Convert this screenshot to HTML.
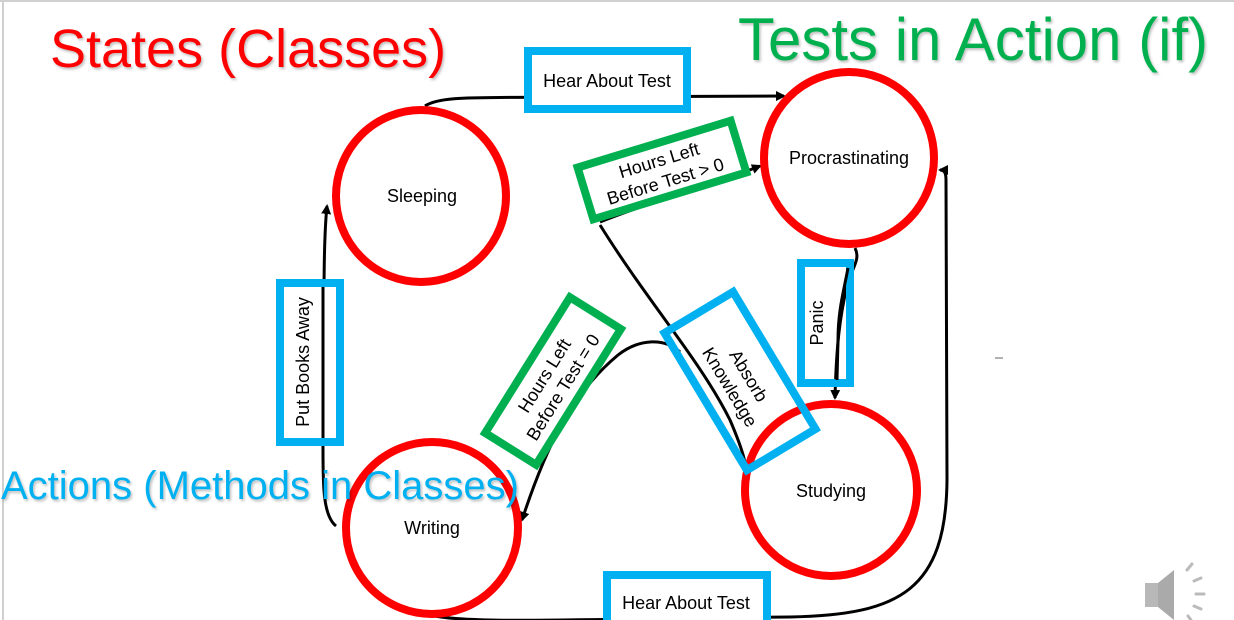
<!DOCTYPE html>
<html><head><meta charset="utf-8"><style>
html,body{margin:0;padding:0;background:#fff;}
body{width:1234px;height:620px;overflow:hidden;}
svg{display:block;}
.t{font-family:"Liberation Sans",sans-serif;}
.l{font-family:"Liberation Sans",sans-serif;font-size:17px;fill:#000;}
.n{font-family:"Liberation Sans",sans-serif;font-size:18px;fill:#000;}
</style></head><body>
<svg width="1234" height="620" viewBox="0 0 1234 620" xmlns="http://www.w3.org/2000/svg">
<defs>
<marker id="a" markerWidth="10" markerHeight="10" refX="8" refY="5" orient="auto" markerUnits="userSpaceOnUse"><path d="M0,0 L10,5 L0,10 z" fill="#000"/></marker>
<filter id="sh" x="-5%" y="-5%" width="110%" height="120%"><feDropShadow dx="1.5" dy="2" stdDeviation="1.2" flood-color="#000" flood-opacity="0.25"/></filter>
</defs>
<rect x="0" y="0" width="1234" height="620" fill="#fff"/>
<line x1="3" y1="0" x2="3" y2="620" stroke="#d0d0d0" stroke-width="2"/>
<line x1="0" y1="1" x2="1234" y2="1" stroke="#d0d0d0" stroke-width="2"/>

<g fill="none" stroke="#000" stroke-width="3">
<path d="M425,106 C440,96 470,98 560,97 L784,96" marker-end="url(#a)"/>
<path d="M336,526 C322,515 323,480 323,440 L324,300 C324,250 325,225 327,206" marker-end="url(#a)"/>
<path d="M855,248 C862,262 848,270 844,300 C838,330 836,360 835,398" marker-end="url(#a)"/>
<path d="M430,615 C470,625 600,618 790,617 C900,615 946,590 947,480 L946,180 C946,172 944,170 940,170" marker-end="url(#a)"/>
<path d="M600,225 C650,305 700,360 730,420 C745,455 748,470 745,480"/>
<path d="M600,222 C660,198 720,182 760,166" marker-end="url(#a)"/>
<path d="M680,352 C665,338 640,338 618,355 C570,395 545,450 522,520" marker-end="url(#a)"/>
</g>

<g fill="none" stroke="#ff0000" stroke-width="8">
<ellipse cx="421" cy="196" rx="85" ry="86" fill="#fff"/>
<ellipse cx="849" cy="158" rx="85" ry="86" fill="#fff"/>
<ellipse cx="831" cy="490" rx="86" ry="86"/>
<ellipse cx="432" cy="528" rx="86" ry="86"/>
</g>
<g class="n" text-anchor="middle">
<text x="422" y="202">Sleeping</text>
<text x="849" y="164">Procrastinating</text>
<text x="831" y="497">Studying</text>
<text x="432" y="534">Writing</text>
</g>

<g fill="#fff" stroke="#00b0f0" stroke-width="8">
<rect x="528" y="51" width="159" height="58"/>
<rect x="607" y="575" width="160" height="60"/>
<rect x="280" y="283" width="60" height="159"/>
<rect x="801" y="263" width="49" height="120" fill="none"/>
</g>
<line x1="323" y1="287" x2="323" y2="438" stroke="#000" stroke-width="3"/>
<path d="M848,268 C844,290 838,310 838,340 L837,380" stroke="#000" stroke-width="3" fill="none"/>
<text class="n" x="607" y="87" text-anchor="middle">Hear About Test</text>
<text class="n" x="686" y="609" text-anchor="middle">Hear About Test</text>
<text class="n" transform="translate(309,362) rotate(-90)" text-anchor="middle">Put Books Away</text>
<text class="n" transform="translate(823,323) rotate(-90)" text-anchor="middle">Panic</text>

<g transform="translate(740,381) rotate(59)">
<rect x="-80" y="-40" width="160" height="80" fill="none" stroke="#00b0f0" stroke-width="8"/>
<text class="n" x="0" y="-4" text-anchor="middle">Absorb</text>
<text class="n" x="0" y="18" text-anchor="middle">Knowledge</text>
</g>

<g transform="translate(662,170) rotate(-17)">
<rect x="-80" y="-27" width="160" height="54" fill="#fff" stroke="#00b050" stroke-width="8"/>
<text class="n" x="0" y="-4" text-anchor="middle">Hours Left</text>
<text class="n" x="0" y="18" text-anchor="middle">Before Test &gt; 0</text>
</g>
<g transform="translate(553,381) rotate(-58)">
<rect x="-80" y="-30" width="160" height="60" fill="#fff" stroke="#00b050" stroke-width="8"/>
<text class="n" x="0" y="-4" text-anchor="middle">Hours Left</text>
<text class="n" x="0" y="18" text-anchor="middle">Before Test = 0</text>
</g>

<g class="t" filter="url(#sh)">
<text x="50" y="67" font-size="54" fill="#ff0000">States (Classes)</text>
<text x="738" y="60" font-size="60" fill="#00b050">Tests in Action (if)</text>
<text x="1" y="499" font-size="40" fill="#00b0f0">Actions (Methods in Classes)</text>
</g>
<line x1="995" y1="358" x2="1003" y2="358" stroke="#666" stroke-width="1"/>

<g>
<rect x="1145" y="583" width="13" height="24" fill="#b8b8b8"/>
<path d="M1158,583 L1174,570 L1174,620 L1158,607 z" fill="#aaa"/>
<g stroke="#bbb" stroke-width="3" stroke-linecap="round">
<line x1="1187" y1="570" x2="1192" y2="564"/>
<line x1="1194" y1="581" x2="1201" y2="578"/>
<line x1="1196" y1="594" x2="1204" y2="594"/>
<line x1="1194" y1="606" x2="1201" y2="609"/>
<line x1="1188" y1="616" x2="1191" y2="620"/>
</g>
</g>
</svg>
</body></html>
